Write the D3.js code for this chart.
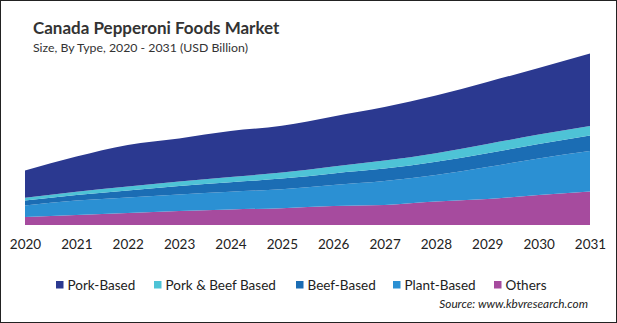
<!DOCTYPE html>
<html><head><meta charset="utf-8">
<script src="https://cdn.jsdelivr.net/npm/d3@7"></script>
<style>
html,body{margin:0;padding:0;background:#fff;}
svg{display:block;font-family:Lato,"Open Sans",sans-serif;}
</style></head><body>
<svg id="c" width="617" height="323"></svg>
<script>
const years = [2020,2021,2022,2023,2024,2025,2026,2027,2028,2029,2030,2031];
const seriesNames = ["Others","Plant-Based","Beef-Based","Pork & Beef Based","Pork-Based"];
const others   = [0.040,0.050,0.060,0.070,0.078,0.084,0.095,0.100,0.117,0.130,0.150,0.167];
const plant    = [0.058,0.072,0.078,0.083,0.088,0.095,0.105,0.120,0.133,0.160,0.183,0.203];
const beef     = [0.024,0.028,0.035,0.042,0.048,0.053,0.058,0.062,0.066,0.069,0.072,0.077];
const porkBeef = [0.014,0.016,0.019,0.022,0.026,0.030,0.035,0.040,0.043,0.046,0.047,0.048];
const pork     = [0.137,0.176,0.208,0.216,0.230,0.234,0.250,0.268,0.288,0.310,0.333,0.363];
const colors = ["#a64b9e","#2b90d3","#1b6db4","#4ec3d6","#2b3990"];
const legendOrder = ["Pork-Based","Pork & Beef Based","Beef-Based","Plant-Based","Others"];

const svg = d3.select("#c");
svg.append("rect").attr("x",0.5).attr("y",0.5).attr("width",616).attr("height",322)
  .attr("fill","#fff").attr("stroke","#222").attr("stroke-width",1);

svg.append("text").attr("x",33).attr("y",34).attr("font-size",17).attr("font-weight",700)
  .attr("fill","#333").text("Canada Pepperoni Foods Market");
svg.append("text").attr("x",33).attr("y",52).attr("font-size",12.3)
  .attr("fill","#333").text("Size, By Type, 2020 - 2031 (USD Billion)");

const table = years.map((y,i)=>({year:y,"Others":others[i],"Plant-Based":plant[i],"Beef-Based":beef[i],"Pork & Beef Based":porkBeef[i],"Pork-Based":pork[i]}));
const stack = d3.stack().keys(seriesNames)(table);

const x = d3.scaleLinear().domain([2020,2031]).range([25,590]);
const y = d3.scaleLinear().domain([0,0.9]).range([225,225-0.9*200]);

const area = d3.area().x(d=>x(d.data.year)).y0(d=>y(d[0])).y1(d=>y(d[1])).curve(d3.curveMonotoneX);
svg.append("g").selectAll("path").data(stack).join("path")
  .attr("d",area).attr("fill",(d,i)=>colors[i]);

const xAxis = d3.axisBottom(x).tickValues(years).tickFormat(d3.format("d")).tickSize(0).tickPadding(0);
const gx = svg.append("g").attr("transform","translate(0,239)").call(xAxis);
gx.select(".domain").remove();
gx.selectAll("text").attr("font-size",13.5).attr("fill","#222").attr("font-family","Lato,'Open Sans',sans-serif");

const legX = [56,154,296,393,494];
const lg = svg.append("g");
legendOrder.forEach((n,i)=>{
  const ci = seriesNames.indexOf(n);
  lg.append("rect").attr("x",legX[i]).attr("y",281).attr("width",7.5).attr("height",7.5).attr("fill",colors[ci]);
  lg.append("text").attr("x",legX[i]+11.5).attr("y",289.5).attr("font-size",13.5).attr("fill","#222").text(n);
});

svg.append("text").attr("x",588).attr("y",308).attr("text-anchor","end").attr("font-size",11.8)
  .attr("font-style","italic").attr("fill","#222").text("Source: www.kbvresearch.com");
</script>
</body></html>
